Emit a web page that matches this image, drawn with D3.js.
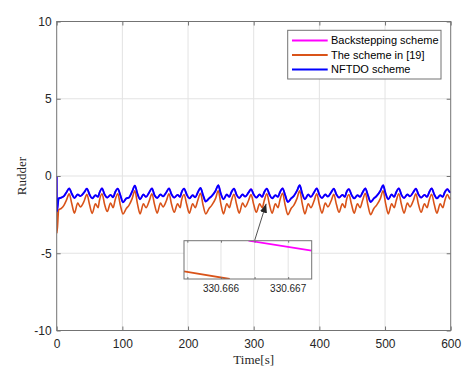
<!DOCTYPE html>
<html><head><meta charset="utf-8">
<script src="https://cdn.jsdelivr.net/npm/d3@7"></script>
<style>body{margin:0;background:#fff}</style></head>
<body><svg id="c" width="474" height="380"></svg>
<script>
// ---- data ----
const time = [0,0.4,3,7,11,
 15,19,23,27,32,36, 42,46,50,54,59,63, 65,69,73,77,82,86, 89,93,97,101,106,110,
 115,119,123,127,132,136, 141,145,149,153,158,162, 167,171,175,179,184,188, 190,194,198,202,207,211,
 215,219,223,227,232,236, 242,246,250,254,259,263, 266,270,274,278,283,287, 292,296,300,304,309,313,
 316,320,324,328,333,337, 340,344,348,352,357,361, 366,370,374,378,383,387, 392,396,400,404,409,413,
 418,422,426,430,435,439, 441,445,449,453,458,462, 466,470,474,478,483,487, 493,497,501,505,510,514,
 517,521,525,529,534,538, 543,547,551,555,560,564, 567,571,575,579,584,588, 591,595,599,600];
const nftdo = [0,-2.3,-1.45,-1.4,-1.3,
 -1.05,-0.8,-1.15,-1.42,-1.2,-1.3, -1.05,-0.82,-1.2,-1.45,-1.25,-1.35, -1.1,-0.8,-1.2,-1.4,-1.22,-1.38, -1.05,-0.82,-1.25,-1.7,-1.45,-1.4,
 -1.0,-0.62,-1.15,-1.5,-1.2,-1.35, -1.05,-0.8,-1.25,-1.42,-1.2,-1.32, -1.05,-0.8,-1.2,-1.4,-1.22,-1.35, -1.08,-0.82,-1.2,-1.45,-1.25,-1.38,
 -1.05,-0.78,-1.25,-1.65,-1.45,-1.3, -0.95,-0.6,-1.15,-1.5,-1.2,-1.35, -1.05,-0.82,-1.22,-1.42,-1.2,-1.33, -1.08,-0.85,-1.2,-1.4,-1.2,-1.35,
 -1.05,-0.82,-1.2,-1.45,-1.25,-1.35, -1.05,-0.8,-1.25,-1.68,-1.45,-1.3, -0.95,-0.6,-1.15,-1.5,-1.2,-1.35, -1.05,-0.8,-1.22,-1.42,-1.2,-1.33,
 -1.05,-0.82,-1.2,-1.4,-1.22,-1.35, -1.08,-0.85,-1.22,-1.45,-1.25,-1.35, -1.05,-0.8,-1.25,-1.68,-1.45,-1.3, -0.95,-0.6,-1.15,-1.5,-1.2,-1.35,
 -1.05,-0.8,-1.22,-1.42,-1.2,-1.32, -1.05,-0.82,-1.2,-1.4,-1.22,-1.35, -1.08,-0.8,-1.2,-1.45,-1.25,-1.35, -1.05,-0.85,-1.05,-1.0];
const ref19 = [-1.5,-3.7,-2.2,-2.1,-1.9,
 -1.55,-1.15,-1.8,-2.4,-1.75,-2.0, -1.6,-1.18,-1.85,-2.42,-1.8,-2.05, -1.6,-1.15,-1.85,-2.3,-1.75,-2.05, -1.55,-1.15,-1.9,-2.45,-2.1,-1.9,
 -1.45,-0.95,-1.8,-2.45,-1.8,-2.05, -1.6,-1.15,-1.85,-2.4,-1.75,-2.0, -1.6,-1.15,-1.85,-2.35,-1.8,-2.05, -1.6,-1.2,-1.85,-2.4,-1.8,-2.05,
 -1.55,-1.12,-1.9,-2.45,-2.1,-1.9, -1.45,-0.95,-1.8,-2.45,-1.8,-2.05, -1.6,-1.18,-1.85,-2.4,-1.75,-2.0, -1.6,-1.2,-1.85,-2.35,-1.8,-2.05,
 -1.6,-1.15,-1.85,-2.4,-1.8,-2.05, -1.55,-1.12,-1.9,-2.5,-2.1,-1.9, -1.45,-0.95,-1.8,-2.45,-1.8,-2.05, -1.6,-1.15,-1.85,-2.4,-1.75,-2.0,
 -1.6,-1.18,-1.85,-2.35,-1.8,-2.05, -1.6,-1.2,-1.85,-2.4,-1.8,-2.05, -1.55,-1.12,-1.9,-2.5,-2.1,-1.9, -1.45,-0.95,-1.8,-2.45,-1.8,-2.05,
 -1.6,-1.15,-1.85,-2.4,-1.75,-2.0, -1.6,-1.15,-1.85,-2.35,-1.8,-2.05, -1.6,-1.18,-1.85,-2.4,-1.8,-2.05, -1.6,-1.2,-1.5,-1.4];
const backstepping = nftdo; // hidden under the NFTDO curve in the main view

const xTicks = [0,100,200,300,400,500,600];
const yTicks = [-10,-5,0,5,10];
const seriesNames = ["Backstepping scheme","The scheme in [19]","NFTDO scheme"];
const seriesColors = ["#ff00ff","#d95319","#0000ff"];

// zoomed inset
const insetDomainX = [330.66545, 330.66735];
const insetDomainY = [-1.2380, -1.2350];
const insetTicks = [330.6655, 330.666, 330.6665, 330.667];
const insetLabels = [330.666, 330.667];
const insetMagentaT = [330.66641, 330.66735];
const insetMagentaV = [-1.2350, -1.23578];
const insetOrangeT = [330.66545, 330.66613];
const insetOrangeV = [-1.2374, -1.2380];
const arrowTarget = [319, -1.8];
const arrowFromInset = 330.6665;

// ---- drawing ----
const svg = d3.select("#c");
svg.append("rect").attr("width",474).attr("height",380).attr("fill","#fff");
const L=56.7, R=450.7, T=21.5, B=330.5;
const x = d3.scaleLinear().domain([0,600]).range([L,R]);
const y = d3.scaleLinear().domain([-10,10]).range([B,T]);
const axisColor = "#737373", gridColor = "#e3e3e3";
const font = "'Liberation Sans', Arial, sans-serif";

// grid
const g = svg.append("g");
g.selectAll(".gx").data(xTicks.slice(1,-1)).join("line")
 .attr("x1",d=>x(d)).attr("x2",d=>x(d)).attr("y1",T).attr("y2",B)
 .attr("stroke",gridColor).attr("stroke-width",1);
g.selectAll(".gy").data(yTicks.slice(1,-1)).join("line")
 .attr("y1",d=>y(d)).attr("y2",d=>y(d)).attr("x1",L).attr("x2",R)
 .attr("stroke",gridColor).attr("stroke-width",1);

// clip
svg.append("clipPath").attr("id","pc").append("rect")
 .attr("x",L).attr("y",T).attr("width",R-L).attr("height",B-T);

const pts = vals => time.map((t,i)=>[t,vals[i]]);
const line = d3.line().x(d=>x(d[0])).y(d=>y(d[1])).curve(d3.curveMonotoneX);
const lg = svg.append("g").attr("clip-path","url(#pc)");
lg.append("path").attr("d",line(pts(backstepping))).attr("fill","none")
 .attr("stroke",seriesColors[0]).attr("stroke-width",1.6);
lg.append("path").attr("d",line(pts(ref19))).attr("fill","none")
 .attr("stroke",seriesColors[1]).attr("stroke-width",1.6).attr("stroke-linejoin","round");
lg.append("path").attr("d",line(pts(nftdo))).attr("fill","none")
 .attr("stroke",seriesColors[2]).attr("stroke-width",1.9).attr("stroke-linejoin","round");

// axes
function styleAxis(sel){
  sel.select(".domain").remove();
  sel.selectAll(".tick line").attr("stroke",axisColor);
  sel.selectAll(".tick text").attr("fill","#262626").style("font-family",font).style("font-size","12px");
}
svg.append("g").attr("transform",`translate(0,${B})`)
 .call(d3.axisBottom(x).tickValues(xTicks).tickSize(-4).tickPadding(9).tickFormat(d3.format("d"))).call(styleAxis);
svg.append("g").attr("transform",`translate(0,${T})`)
 .call(d3.axisTop(x).tickValues(xTicks).tickSize(-4).tickFormat("")).call(styleAxis);
svg.append("g").attr("transform",`translate(${L},0)`)
 .call(d3.axisLeft(y).tickValues(yTicks).tickSize(-4).tickPadding(5).tickFormat(d3.format("d"))).call(styleAxis);
svg.append("g").attr("transform",`translate(${R},0)`)
 .call(d3.axisRight(y).tickValues(yTicks).tickSize(-4).tickFormat("")).call(styleAxis);
svg.selectAll("text").filter(function(){return this.textContent.indexOf("−")>=0;})
 .text(function(){return this.textContent.replace("−","-");});
svg.append("rect").attr("x",L).attr("y",T).attr("width",R-L).attr("height",B-T)
 .attr("fill","none").attr("stroke",axisColor).attr("stroke-width",1);

// labels
svg.append("text").attr("x",(L+R)/2).attr("y",364.3).attr("text-anchor","middle")
 .style("font-family","'Liberation Serif','Times New Roman',serif").style("font-size","13px")
 .attr("fill","#262626").text("Time[s]");
svg.append("text").attr("transform",`translate(25.5,${(T+B)/2}) rotate(-90)`).attr("text-anchor","middle")
 .style("font-family","'Liberation Serif','Times New Roman',serif").style("font-size","13px")
 .attr("fill","#262626").text("Rudder");

// legend
const lgd = svg.append("g");
lgd.append("rect").attr("x",287.7).attr("y",30.3).attr("width",153.3).attr("height",48.7)
 .attr("fill","#fff").attr("stroke",axisColor).attr("stroke-width",1);
const rowY = [40.5,55,69.5];
seriesNames.forEach((n,i)=>{
  lgd.append("line").attr("x1",292).attr("x2",327.7).attr("y1",rowY[i]).attr("y2",rowY[i])
   .attr("stroke",seriesColors[i]).attr("stroke-width",1.8);
  lgd.append("text").attr("x",331).attr("y",rowY[i]).attr("dy","0.35em")
   .style("font-family",font).style("font-size","11px").attr("fill","#000").text(n);
});

// inset
const iL=184, iR=311.7, iT=240.7, iB=279;
const ix = d3.scaleLinear().domain(insetDomainX).range([iL,iR]);
const iy = d3.scaleLinear().domain(insetDomainY).range([iB,iT]);
// arrow
svg.append("defs").append("marker").attr("id","ah").attr("viewBox","0 0 10 10")
 .attr("refX",10).attr("refY",5).attr("markerWidth",9).attr("markerHeight",9)
 .attr("markerUnits","userSpaceOnUse").attr("orient","auto")
 .append("path").attr("d","M0,1 L10,5 L0,9 Z").attr("fill","#262626");
svg.append("line").attr("x1",ix(arrowFromInset)).attr("y1",iT)
 .attr("x2",x(arrowTarget[0])).attr("y2",y(arrowTarget[1]))
 .attr("stroke","#262626").attr("stroke-width",0.8).attr("marker-end","url(#ah)");

const ig = svg.append("g");
ig.append("rect").attr("x",iL).attr("y",iT).attr("width",iR-iL).attr("height",iB-iT).attr("fill","#fff");
ig.selectAll(".igx").data(insetTicks).join("line")
 .attr("x1",d=>ix(d)).attr("x2",d=>ix(d)).attr("y1",iT).attr("y2",iB)
 .attr("stroke",gridColor).attr("stroke-width",1);
svg.append("clipPath").attr("id","ic").append("rect")
 .attr("x",iL).attr("y",iT).attr("width",iR-iL).attr("height",iB-iT);
const iline = d3.line().x(d=>ix(d[0])).y(d=>iy(d[1]));
const icl = ig.append("g").attr("clip-path","url(#ic)");
icl.append("path").attr("d",iline(insetMagentaT.map((t,i)=>[t,insetMagentaV[i]])))
 .attr("stroke",seriesColors[0]).attr("stroke-width",1.8).attr("fill","none");
icl.append("path").attr("d",iline(insetOrangeT.map((t,i)=>[t,insetOrangeV[i]])))
 .attr("stroke",seriesColors[1]).attr("stroke-width",1.8).attr("fill","none");
ig.append("g").attr("transform",`translate(0,${iB})`)
 .call(d3.axisBottom(ix).tickValues(insetTicks).tickSize(-2).tickPadding(6).tickFormat(""))
 .call(styleAxis);
ig.append("g").attr("transform",`translate(0,${iT})`)
 .call(d3.axisTop(ix).tickValues(insetTicks).tickSize(-2).tickFormat("")).call(styleAxis);
ig.selectAll(".il").data(insetLabels).join("text")
 .attr("x",d=>ix(d)).attr("y",288.3).attr("dy","0.35em").attr("text-anchor","middle")
 .style("font-family",font).style("font-size","10px").attr("fill","#262626")
 .text(d=>d3.format(".3f")(d));
ig.append("rect").attr("x",iL).attr("y",iT).attr("width",iR-iL).attr("height",iB-iT)
 .attr("fill","none").attr("stroke",axisColor).attr("stroke-width",1);
</script></body></html>
